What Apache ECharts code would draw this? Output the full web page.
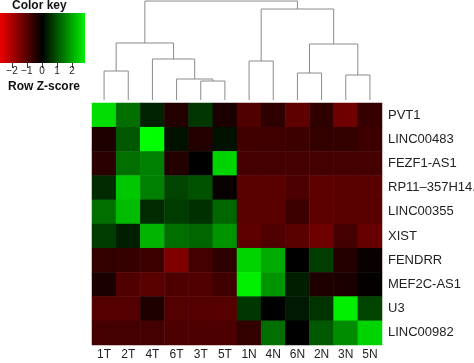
<!DOCTYPE html>
<html><head><meta charset="utf-8">
<script src="https://cdn.jsdelivr.net/npm/echarts@6/dist/echarts.min.js"></script>
<style>html,body{margin:0;padding:0;background:#fff}#c{width:474px;height:363px}</style>
</head><body><div id="c"></div>
<script>
const columns = ['1T','2T','4T','6T','3T','5T','1N','4N','6N','2N','3N','5N'];
const genes = ['PVT1','LINC00483','FEZF1-AS1','RP11\u2013357H14.17','LINC00355','XIST','FENDRR','MEF2C-AS1','U3','LINC00982'];
// Row Z-scores, one array per gene, in column order
const zPVT1      = [2.6, 1.3, 0.4, -0.4, 0.65, -0.3, -0.95, -0.55, -1.1, -0.55, -1.3, -0.65];
const zLINC00483 = [-0.35, 1.05, 3.0, 0.2, -0.4, 0.2, -0.75, -0.75, -0.7, -0.6, -0.6, -0.7];
const zFEZF1AS1  = [-0.5, 1.3, 1.5, -0.4, 0.0, 2.5, -0.8, -0.8, -0.8, -0.8, -0.8, -0.8];
const zRP11      = [0.5, 2.35, 1.5, 0.8, 0.95, -0.1, -1.05, -1.05, -0.9, -1.1, -1.05, -1.05];
const zLINC00355 = [1.3, 2.2, 0.5, 0.7, 0.55, 1.2, -1.05, -1.05, -0.7, -1.1, -1.05, -1.05];
const zXIST      = [0.7, 0.35, 2.1, 1.3, 1.2, 1.75, -1.1, -0.95, -1.05, -1.3, -0.8, -1.2];
const zFENDRR    = [-0.6, -0.65, -0.7, -1.5, -0.8, -0.55, 2.5, 2.0, 0.0, 0.7, -0.4, -0.1];
const zMEF2CAS1  = [-0.3, -0.95, -1.05, -0.9, -0.95, -0.75, 2.8, 1.75, 0.35, -0.35, -0.3, -0.05];
const zU3        = [-1.0, -1.0, -0.35, -1.0, -1.0, -1.0, 0.65, 0.0, 0.3, 0.6, 2.8, 0.8];
const zLINC00982 = [-0.8, -0.8, -0.8, -0.9, -0.9, -0.9, -0.6, 1.3, 0.0, 1.05, 1.65, 2.5];
const keyTicks = [-2, -1, 0, 1, 2];
// Column dendrogram merges: [childA, childB, height]; 'mN' refers to merge N
const merges = [
  ['1T','2T',29], ['3T','5T',19], ['6T','m1',21], ['4T','m2',41], ['m0','m3',57],
  ['1N','4N',39], ['6N','2N',27], ['3N','5N',25], ['m6','m7',56], ['m5','m8',91],
  ['m4','m9',99]
];

const rows = [zPVT1, zLINC00483, zFEZF1AS1, zRP11, zLINC00355, zXIST, zFENDRR, zMEF2CAS1, zU3, zLINC00982];
const heatData = [];
rows.forEach((r, ri) => r.forEach((v, ci) => heatData.push([ci, ri, v])));

const nodes = {};
columns.forEach((c, i) => nodes[c] = {x: i, h: 0});
const dendroData = [];
merges.forEach((m, i) => {
  const a = nodes[m[0]], b = nodes[m[1]];
  dendroData.push([a.x, b.x, m[2], a.h, b.h]);
  nodes['m' + i] = {x: (a.x + b.x) / 2, h: m[2]};
});

const chart = echarts.init(document.getElementById('c'), null, {renderer: 'canvas'});
const font = 'Liberation Sans, Arial, sans-serif';
chart.setOption({
  animation: false,
  backgroundColor: '#fff',
  grid: [
    {left: 92, top: 103, width: 290, height: 242, outerBoundsMode: 'none', containLabel: false},
    {left: 92, top: 1, width: 290, height: 99, outerBoundsMode: 'none', containLabel: false},
    {left: 0, top: 13, width: 85, height: 50, outerBoundsMode: 'none', containLabel: false}
  ],
  xAxis: [
    {type: 'category', gridIndex: 0, data: columns, axisLine: {show: false}, axisTick: {show: false},
     axisLabel: {fontSize: 12, color: '#222', fontFamily: font, margin: 4}},
    {type: 'value', gridIndex: 1, min: -0.5, max: 11.5, show: false},
    {type: 'value', gridIndex: 2, min: -2.8, max: 2.87, axisLine: {show: false}, splitLine: {show: false},
     axisTick: {show: true, customValues: keyTicks, length: 5, lineStyle: {color: '#333'}},
     axisLabel: {customValues: keyTicks, fontSize: 10, color: '#222', fontFamily: font, margin: 3,
       formatter: v => (v < 0 ? '\u2212' + Math.abs(v) : String(v))}}
  ],
  yAxis: [
    {type: 'category', gridIndex: 0, data: genes, inverse: true, position: 'right', axisLine: {show: false},
     axisTick: {show: false}, axisLabel: {fontSize: 13, color: '#222', fontFamily: font, margin: 6}},
    {type: 'value', gridIndex: 1, min: 0, max: 99, show: false},
    {type: 'value', gridIndex: 2, min: 0, max: 1, show: false}
  ],
  visualMap: {type: 'continuous', show: false, min: -3, max: 3, seriesIndex: 0,
    inRange: {color: ['#ff0000', '#000000', '#00ff00']}},
  graphic: [
    {type: 'rect', left: 0, top: 13, shape: {width: 85, height: 50}, z: 1,
     style: {fill: new echarts.graphic.LinearGradient(0, 0, 1, 0, [
       {offset: 0, color: '#ee0000'}, {offset: 0.494, color: '#000000'}, {offset: 1, color: '#00f000'}])}},
    {type: 'text', left: 12, top: 0, style: {text: 'Color key', font: 'bold 12px ' + font, fill: '#111'}},
    {type: 'text', left: 8, top: 81, style: {text: 'Row Z-score', font: 'bold 12px ' + font, fill: '#111'}}
  ],
  series: [
    {type: 'heatmap', xAxisIndex: 0, yAxisIndex: 0, data: heatData, emphasis: {disabled: true}, progressive: 0},
    {type: 'custom', xAxisIndex: 1, yAxisIndex: 1, data: dendroData, silent: true,
     renderItem: (params, api) => {
       const xa = api.value(0), xb = api.value(1), h = api.value(2), ha = api.value(3), hb = api.value(4);
       return {type: 'polyline', shape: {points: [api.coord([xa, ha]), api.coord([xa, h]), api.coord([xb, h]), api.coord([xb, hb])]},
         style: {stroke: '#8a8a8a', lineWidth: 1, fill: null}};
     }},
    {type: 'line', xAxisIndex: 2, yAxisIndex: 2, data: [], silent: true}
  ]
});
</script></body></html>
